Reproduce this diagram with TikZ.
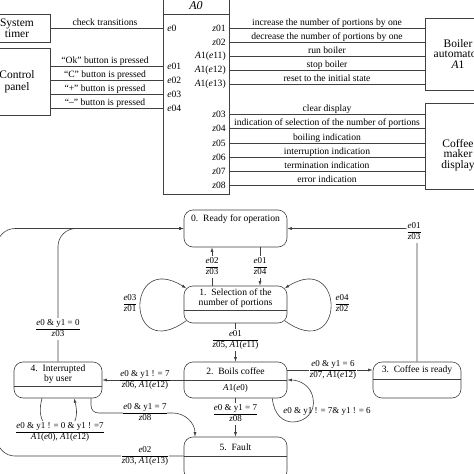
\documentclass[tikz,border=0pt]{standalone}
\usepackage{fontspec}
\setmainfont{Liberation Serif}
\usetikzlibrary{arrows.meta,calc}
\newcommand{\myE}{\textit{e}}
\newcommand{\myZ}{\textit{z}}
\newcommand{\myA}{\textit{A}}
\newcommand{\myfrac}[2]{\begin{tabular}{@{}c@{}}#1\\\hline #2\end{tabular}}
\tikzset{
  box/.style={draw, rectangle, inner sep=0pt, align=center, font=\fontsize{11.5}{10.5}\selectfont},
  state/.style={draw, rounded corners=9pt, inner sep=0pt, minimum width=103pt},
  flab/.style={fill=white, inner sep=0.6pt, align=center, font=\fontsize{9}{10.5}\selectfont},
  txt/.style={inner sep=0pt, align=center},
  lbl/.style={inner sep=0pt, anchor=base},
}
\begin{document}
\begin{tikzpicture}[x=1pt, y=-1pt, line width=0.6pt, draw=black!75,
  font=\fontsize{9.6}{10.5}\selectfont, >={Latex[length=4.5pt,width=3pt]}]
\useasboundingbox (0,0) rectangle (474,474);
\fill[white] (0,0) rectangle (474,474);
% ---------------- top block diagram
\node[box, minimum width=66pt, minimum height=28pt] (timer) at (17,28) {System\\timer};
\node[box, minimum width=66pt, minimum height=67pt, font=\fontsize{11.5}{12.5}\selectfont] (panel) at (17,81.5) {Control\\panel};
\node[box, minimum width=66pt, minimum height=204pt] (a0) at (196,92) {};
\draw (a0.west |- 0,14) -- (a0.east |- 0,14);
\node[txt, font=\fontsize{12}{12}\selectfont] (a0t) at (196,6) {\textit{A0}};
\node[box, minimum width=66pt, minimum height=72pt] (boiler) at (458,54) {Boiler\\automaton\\\myA1};
\node[box, minimum width=66pt, minimum height=86pt] (disp) at (458,146) {};
\node[txt, font=\fontsize{11.5}{10.5}\selectfont] (dispt) at (458,155) {Coffee\\maker\\display};
% inputs
\draw (timer.east |- 0,28) -- (a0.west |- 0,28);
\node[lbl] (it0) at (105,25) {check transitions};
\node[anchor=west, inner sep=0pt] (ie0) at (167,28) {\myE0};
\foreach \y/\t/\e in {66/“Ok” button is pressed/01, 80/“C” button is pressed/02, 94/“+” button is pressed/03, 108/“–” button is pressed/04}{
  \draw (panel.east |- 0,\y) -- (a0.west |- 0,\y);
  \node[lbl] (it\e) at (105,\y-3) {\t};
  \node[anchor=west, inner sep=0pt] (ie\e) at (167,\y) {\myE\e};
}
% outputs to boiler
\foreach \y/\z/\t [count=\i] in {28/\myZ01/increase the number of portions by one, 42/\myZ02/decrease the number of portions by one, 56/\myA1(\myE11)/run boiler, 70/\myA1(\myE12)/stop boiler, 84/\myA1(\myE13)/reset to the initial state}{
  \draw (a0.east |- 0,\y) -- (boiler.west |- 0,\y);
  \node[lbl] (ot\i) at (327,\y-3) {\t};
  \node[anchor=east, inner sep=0pt] (oz\i) at (226,\y) {\z};
}
% outputs to display
\foreach \y/\z/\t [count=\i] in {114/03/clear display, 128/04/indication of selection of the number of portions, 143/05/boiling indication, 157/06/interruption indication, 171/07/termination indication, 185/08/error indication}{
  \draw (a0.east |- 0,\y) -- (disp.west |- 0,\y);
  \node[lbl] (dt\i) at (327,\y-3) {\t};
  \node[anchor=east, inner sep=0pt] (dz\i) at (226,\y) {\myZ\z};
}
% ---------------- states
\node[state, minimum height=37pt] (s0) at (235.5,228.5) {};
\node[txt] (s0t) at (235.5,219) {0.\ \ Ready for operation};
\node[state, minimum height=37pt] (s1) at (235.5,304.5) {};
\draw (s1.west |- 0,310) -- (s1.east |- 0,310);
\node[txt] (s1t) at (235.5,298) {1.\ \ Selection of the\\number of portions};
\node[state, minimum height=36pt] (s2) at (235.5,380) {};
\draw (s2.west) -- (s2.east);
\node[txt] (s2t) at (235.5,371) {2.\ \ Boils coffee};
\node[txt, font=\fontsize{9}{10.5}\selectfont] (s2a) at (235.5,388.5) {\myA1(\myE0)};
\node[state, minimum width=88pt, minimum height=36pt] (s3) at (417,380) {};
\draw (s3.west |- 0,379) -- (s3.east |- 0,379);
\node[txt] (s3t) at (417,370.5) {3.\ \ Coffee is ready};
\node[state, minimum width=88pt, minimum height=36pt] (s4) at (58,380) {};
\draw (s4.west |- 0,386) -- (s4.east |- 0,386);
\node[txt] (s4t) at (58,374) {4.\ \ Interrupted\\by user};
\node[state, minimum height=43pt] (s5) at (235.5,458.5) {};
\draw (s5.west |- 0,456) -- (s5.east |- 0,456);
\node[txt] (s5t) at (235.5,447) {5.\ \ Fault};
% ---------------- transitions
\draw[->] (s0.south -| 260,0) -- (s1.north -| 260,0);
\node[flab] (l01) at (260,267) {\myfrac{\myE01}{\myZ04}};
\draw[->] (s1.north -| 212,0) -- (s0.south -| 212,0);
\node[flab] (l10) at (212,267) {\myfrac{\myE02}{\myZ03}};
% loops on 1
\draw[->] ($(s1.south west)+(2.6,-2.6)$) .. controls (125,365) and (125,250) .. ($(s1.north west)+(2.6,2.6)$);
\node[flab] (l11a) at (130,304) {\myfrac{\myE03}{\myZ01}};
\draw[->] ($(s1.south east)+(-2.6,-2.6)$) .. controls (346,365) and (346,250) .. ($(s1.north east)+(-2.6,2.6)$);
\node[flab] (l11b) at (342,304) {\myfrac{\myE04}{\myZ02}};
% 1 -> 2
\draw[->] (s1.south) -- (s2.north);
\node[flab] (l12) at (235.5,340) {\myfrac{\myE01}{\myZ05, \myA1(\myE11)}};
% 2 -> 3
\draw[->] (s2.east |- 0,370) -- (s3.west |- 0,370);
\node[flab] (l23) at (333,370) {\myfrac{\myE0 \& y1 = 6}{\myZ07, \myA1(\myE12)}};
% 2 -> 4
\draw[->] (s2.west) -- (s4.east |- s2.west);
\node[flab] (l24) at (145,380) {\myfrac{\myE0 \& y1 ! = 7}{\myZ06, \myA1(\myE12)}};
% 2 -> 5
\draw[->] (s2.south) -- (s5.north);
\node[flab] (l25) at (235.5,414) {\myfrac{\myE0 \& y1 = 7}{\myZ08}};
% loop on 2
\draw[->] ($(s2.south east)+(-15,0)$) .. controls (274,415) and (283,422) .. (293,422)
   .. controls (305,422) and (316,412) .. (313,398) .. controls (311,386) and (300,380) .. (s2.east);
\node[txt, font=\fontsize{9}{10.5}\selectfont] (l22) at (327,411) {\myE0 \& y1 ! = 7\& y1 ! = 6};
% 3 -> 0
\draw[->, rounded corners=12pt] (s3.north) -- (417,228.5) -- (s0.east);
\node[flab] (l30) at (414,232) {\myfrac{\myE01}{\myZ03}};
% 4 -> 0
\draw[->, rounded corners=18pt] (s4.north) -- (58,228.5) -- (s0.west);
\node[flab] (l40) at (58,329) {\myfrac{\myE0 \& y1 = 0}{\myZ03}};
% loop on 4
\draw[->] (s4.south -| 42,0) .. controls (30,442) and (86,442) .. (s4.south -| 74,0);
\node[flab] (l44) at (60,432) {\myfrac{\myE0 \& y1 ! = 0 \& y1 ! =7}{\myA1(\myE0), \myA1(\myE12)}};
% 4 -> 5
\draw[->] (s4.south -| 91,0) -- (91,405) .. controls (91,410) and (94,413) .. (99,413) -- (173,413)
   .. controls (185,413) and (195,423) .. (s5.north -| 195,0);
\node[flab] (l45) at (145,413) {\myfrac{\myE0 \& y1 = 7}{\myZ08}};
% 5 -> 0
\draw[->, rounded corners=18pt] (s5.west |- 0,456) -- (-3,456) -- (-3,228.5) -- (s0.west);
\node[flab] (l50) at (145,456) {\myfrac{\myE02}{\myZ03, \myA1(\myE13)}};
\end{tikzpicture}
\end{document}
